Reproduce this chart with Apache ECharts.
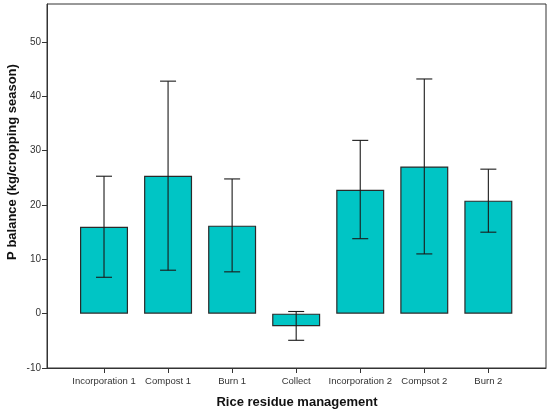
<!DOCTYPE html>
<html>
<head>
    <meta charset="utf-8">
    <title>P balance</title>
    <script src="https://cdn.jsdelivr.net/npm/echarts@6/dist/echarts.min.js"></script>
    <style>
        html, body { margin: 0; padding: 0; background: #ffffff; }
        #chart { width: 550px; height: 413px; }
    </style>
</head>
<body>
<div id="chart"></div>
<script>
var categories = ['Incorporation 1', 'Compost 1', 'Burn 1', 'Collect', 'Incorporation 2', 'Compsot 2', 'Burn 2'];
var means = [16.0, 25.4, 16.2, -2.3, 22.8, 27.1, 20.8];
var errLow = [6.7, 8.0, 7.7, -4.9, 13.8, 11.0, 15.0];
var errHigh = [25.3, 42.8, 24.8, 0.4, 31.9, 43.2, 26.6];
var yTicks = [-10, 0, 10, 20, 30, 40, 50];

var chart = echarts.init(document.getElementById('chart'));

var barData = [], errData = [], xPos = [];
for (var i = 0; i < categories.length; i++) {
    xPos.push(i);
    barData.push([i, means[i]]);
    errData.push([i, errLow[i], errHigh[i]]);
}

var option = {
    animation: false,
    grid: {
        left: 47, right: 4, top: 4, bottom: 45,
        show: true, borderColor: '#333', borderWidth: 1
    },
    xAxis: {
        type: 'value',
        min: -0.89, max: 6.9,
        splitLine: {show: false},
        axisLine: {onZero: false, lineStyle: {color: '#333'}},
        axisTick: {show: true, length: 5, customValues: xPos, lineStyle: {color: '#333'}},
        axisLabel: {
            color: '#333', fontSize: 9.5, fontFamily: 'Liberation Sans', margin: 8,
            customValues: xPos,
            formatter: function (v) { return categories[Math.round(v)] || ''; }
        }
    },
    yAxis: {
        type: 'value',
        min: -10, max: 57, interval: 10,
        splitLine: {show: false},
        axisLine: {show: true, onZero: false, lineStyle: {color: '#333'}},
        axisTick: {show: true, length: 5, customValues: yTicks, lineStyle: {color: '#333'}},
        axisLabel: {
            color: '#333', fontSize: 10, fontFamily: 'Liberation Sans', margin: 6,
            customValues: yTicks
        }
    },
    graphic: [
        {
            type: 'text', x: 297, y: 402,
            style: {text: 'Rice residue management', font: 'bold 13px "Liberation Sans"', fill: '#111',
                align: 'center', verticalAlign: 'middle'}
        },
        {
            type: 'text', x: 12, y: 162, rotation: Math.PI / 2,
            style: {text: 'P balance (kg/cropping season)', font: 'bold 13px "Liberation Sans"', fill: '#111',
                align: 'center', verticalAlign: 'middle'}
        }
    ],
    series: [
        {
            type: 'bar',
            data: barData,
            barWidth: 48,
            itemStyle: {color: '#00C5C5', borderColor: '#2a2a2a', borderWidth: 1.2}
        },
        {
            type: 'custom',
            data: errData,
            z: 10,
            renderItem: function (params, api) {
                var x = api.value(0);
                var lo = api.coord([x, api.value(1)]);
                var hi = api.coord([x, api.value(2)]);
                var hw = 8;
                var st = {stroke: '#1a1a1a', lineWidth: 1.1};
                return {
                    type: 'group',
                    children: [
                        {type: 'line', shape: {x1: lo[0], y1: lo[1], x2: hi[0], y2: hi[1]}, style: st},
                        {type: 'line', shape: {x1: lo[0] - hw, y1: lo[1], x2: lo[0] + hw, y2: lo[1]}, style: st},
                        {type: 'line', shape: {x1: hi[0] - hw, y1: hi[1], x2: hi[0] + hw, y2: hi[1]}, style: st}
                    ]
                };
            }
        }
    ]
};
chart.setOption(option);
</script>
</body>
</html>
